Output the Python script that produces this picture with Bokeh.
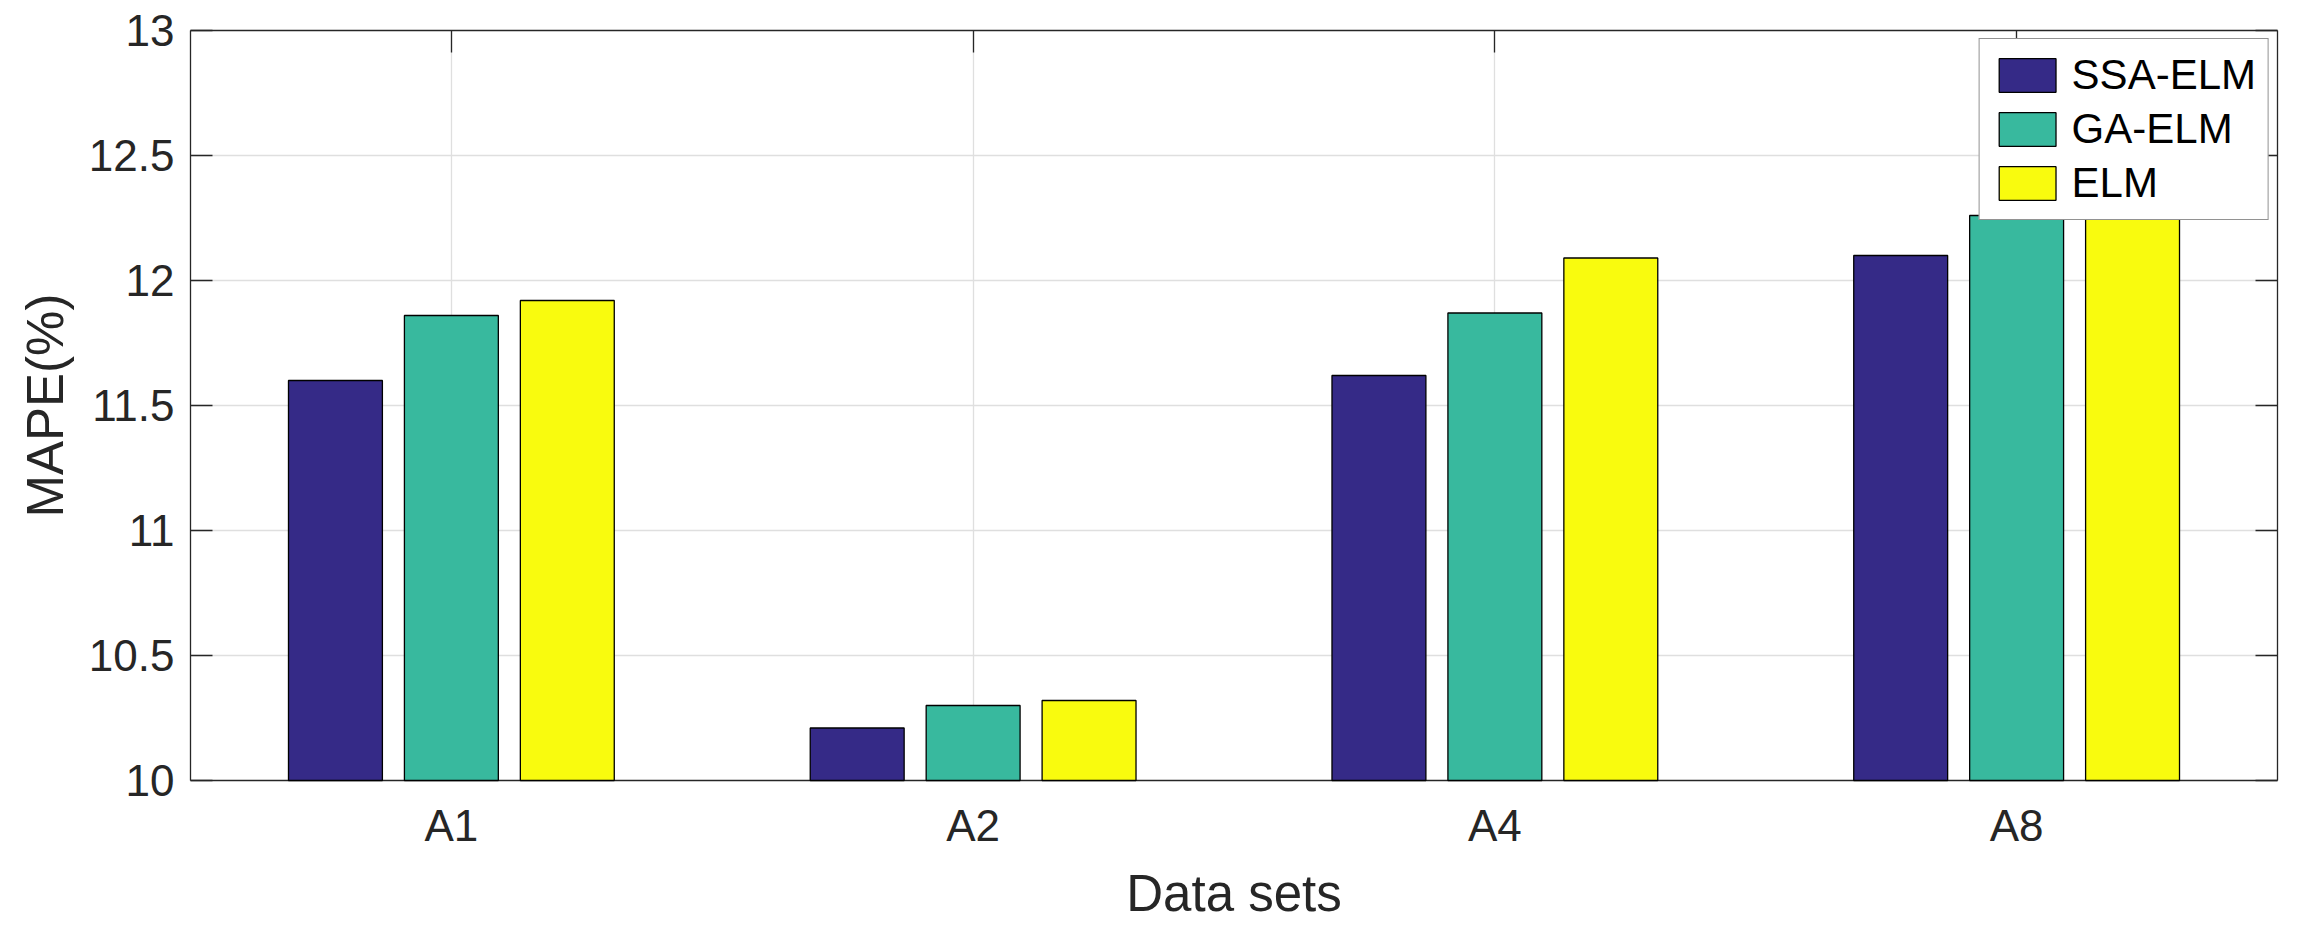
from bokeh.plotting import figure
from bokeh.models import FixedTicker, LinearAxis, CategoricalAxis, Legend, LegendItem, CustomJSTickFormatter
from bokeh.transform import dodge
from bokeh.models import ColumnDataSource
from bokeh.embed import file_html
from bokeh.resources import INLINE

# ---- data ----
categories = ["A1", "A2", "A4", "A8"]
series_names = ["SSA-ELM", "GA-ELM", "ELM"]
ssa_elm = [11.60, 10.21, 11.62, 12.10]
ga_elm = [11.86, 10.30, 11.87, 12.26]
elm = [11.92, 10.32, 12.09, 12.45]
y_ticks = [10, 10.5, 11, 11.5, 12, 12.5, 13]
y_tick_labels = ["10", "10.5", "11", "11.5", "12", "12.5", "13"]
x_label = "Data sets"
y_label = "MAPE(%)"

colors = ["#352a87", "#38b99e", "#f9fb0e"]
FONT = "Liberation Sans"
AX = "#262626"

src = ColumnDataSource(dict(cat=categories, s0=ssa_elm, s1=ga_elm, s2=elm))

p = figure(width=2297, height=926, x_range=categories, y_range=(y_ticks[0], y_ticks[-1]),
           output_backend="svg", toolbar_location=None,
           min_border_left=190, min_border_right=20, min_border_top=30, min_border_bottom=146)
p.background_fill_color = "white"
p.border_fill_color = "white"
p.outline_line_color = None

offsets = [-0.2222, 0.0, 0.2222]
renderers = []
for i, key in enumerate(["s0", "s1", "s2"]):
    r = p.vbar(x=dodge("cat", offsets[i], range=p.x_range), top=key, bottom=y_ticks[0],
               width=0.18, source=src, fill_color=colors[i], line_color="black", line_width=1.3)
    r.level = "annotation"
    renderers.append(r)

# grids
for g in (p.xgrid, p.ygrid):
    g.grid_line_color = "#dfdfdf"
    g.grid_line_width = 1.3
p.ygrid.ticker = FixedTicker(ticks=y_ticks)

def style_axis(ax):
    ax.axis_line_color = AX
    ax.axis_line_width = 1.3
    ax.major_tick_line_color = AX
    ax.major_tick_line_width = 1.3
    ax.major_tick_in = 22
    ax.major_tick_out = 0
    ax.minor_tick_line_color = None
    ax.major_label_text_font = FONT
    ax.major_label_text_color = AX
    ax.major_label_text_font_size = "44px"

# left axis
yl = p.yaxis[0]
yl.ticker = FixedTicker(ticks=y_ticks)
yl.major_label_overrides = {t: l for t, l in zip(y_ticks, y_tick_labels)}
style_axis(yl)
yl.major_label_standoff = 16
yl.axis_label = y_label
yl.axis_label_text_font = FONT
yl.axis_label_text_font_size = "51px"
yl.axis_label_text_font_style = "normal"
yl.axis_label_text_color = AX
yl.axis_label_standoff = 12

# bottom axis
xb = p.xaxis[0]
style_axis(xb)
xb.major_label_standoff = 20
xb.axis_label = x_label
xb.axis_label_text_font = FONT
xb.axis_label_text_font_size = "51px"
xb.axis_label_text_font_style = "normal"
xb.axis_label_text_color = AX
xb.axis_label_standoff = 12

# right and top mirrored axes (ticks only)
blank = CustomJSTickFormatter(code="return ' ';")
yr = LinearAxis(ticker=FixedTicker(ticks=y_ticks), formatter=blank)
style_axis(yr)
yr.major_label_text_font_size = "10px"
yr.major_label_standoff = 0
p.add_layout(yr, "right")
xt = CategoricalAxis(formatter=CustomJSTickFormatter(code="return ' ';"))
style_axis(xt)
xt.major_label_text_font_size = "10px"
xt.major_label_standoff = 0
p.add_layout(xt, "above")

legend = Legend(items=[LegendItem(label=n, renderers=[r]) for n, r in zip(series_names, renderers)],
                location="top_right")
legend.margin = 8
legend.padding = 12
legend.spacing = 6
legend.glyph_width = 71
legend.glyph_height = 42
legend.label_standoff = 9
legend.label_text_font = FONT
legend.label_text_font_size = "42px"
legend.label_text_color = "black"
legend.border_line_color = AX
legend.border_line_width = 1.3
legend.background_fill_color = "white"
legend.background_fill_alpha = 1.0
p.add_layout(legend, "center")

html = file_html(p, INLINE)
open("out.html", "w").write(html)
